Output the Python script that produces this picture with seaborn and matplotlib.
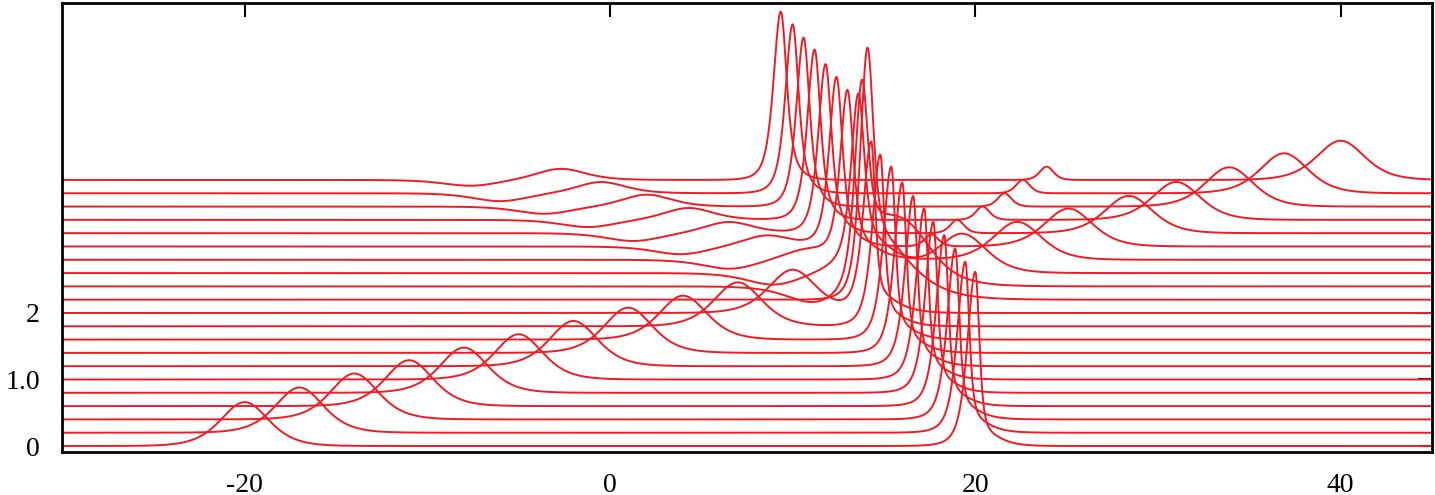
import numpy as np
import matplotlib
matplotlib.use("Agg")
import matplotlib.pyplot as plt
import seaborn as sns
import pandas as pd

# ---- data ----
step = 0.2  # vertical offset between successive profiles
lines = list(range(21))
broad_pos = [-20.0, -17.0, -14.0, -11.0, -8.0, -5.0, -2.0, 1.0, 4.0, 7.0, 10.0,
             13.2, 16.4, 19.3, 22.3, 25.1, 28.4, 31.0, 33.9, 36.9, 40.0]
broad_amp = [0.66, 0.68, 0.69, 0.69, 0.68, 0.68, 0.68, 0.68, 0.66, 0.66, 0.65,
             0.0, 0.50, 0.58, 0.57, 0.57, 0.56, 0.57, 0.59, 0.60, 0.59]
narrow_pos = [20.0, 19.45, 18.9, 18.3, 17.7, 17.2, 16.6, 16.0, 15.4, 14.8, 14.3,
              14.1, 13.8, 13.6, 13.0, 12.4, 11.8, 11.2, 10.6, 10.0, 9.35]
narrow_amp = [2.62, 2.57, 2.57, 2.57, 2.57, 2.57, 2.56, 2.56, 2.60, 2.58, 2.56,
              3.79, 3.08, 2.57, 2.51, 2.54, 2.54, 2.56, 2.54, 2.54, 2.53]
# fraction of the narrow pulse carried by its slow trailing (right) tail
tail_frac = [0.12, 0.12, 0.12, 0.12, 0.12, 0.12, 0.12, 0.12, 0.12, 0.12, 0.14,
             0.30, 0.32, 0.22, 0.16, 0.15, 0.15, 0.15, 0.15, 0.15, 0.15]
tail_len = [1.3, 1.3, 1.3, 1.3, 1.3, 1.3, 1.3, 1.3, 1.3, 1.3, 1.5,
            2.6, 2.8, 2.2, 1.6, 1.2, 1.1, 1.0, 1.0, 1.0, 1.0]
# trailing wave train behind the collision (dip then hump, moving left)
dip_pos = [None] * 12 + [11.2, 9.0, 6.6, 3.9, 1.3, -1.2, -3.6, -6.0, -7.6]
dip_amp = [0.0] * 12 + [-0.25, -0.18, -0.14, -0.12, -0.12, -0.11, -0.11, -0.12, -0.09]
hump_pos = [None] * 12 + [None, 13.0, 10.8, 8.6, 6.5, 4.3, 2.0, -0.5, -2.7]
hump_amp = [0.0] * 12 + [0.0, 0.15, 0.16, 0.17, 0.17, 0.18, 0.18, 0.17, 0.17]
# small fast ripple emitted to the right after the collision
ripple_pos = [None] * 15 + [17.6, 19.0, 20.4, 21.6, 22.6, 23.9]
ripple_amp = [0.0] * 15 + [0.18, 0.2, 0.2, 0.2, 0.2, 0.2]
xticks = [-20, 0, 20, 40]
yticks = [0, 1, 2]
ytick_labels = ["0", "1.0", "2"]

x = np.linspace(-30, 45, 3001)


def sech2(u):
    return 1.0 / np.cosh(np.clip(u, -50, 50)) ** 2


rows = []
for n in lines:
    y = np.zeros_like(x)
    y += broad_amp[n] * sech2((x - broad_pos[n]) / 1.75)
    c = narrow_pos[n]
    wl, wr = (0.55, 0.28) if n <= 10 else (0.5, 0.4)
    f = tail_frac[n]
    left = 0.9 * sech2((x - c) / wl) + 0.1 * sech2((x - c) / (2.2 * wl))
    right = (1 - f) * sech2((x - c) / wr) + f * sech2((x - c) / tail_len[n])
    y += narrow_amp[n] * np.where(x < c, left, right)
    if dip_pos[n] is not None:
        y += dip_amp[n] * sech2((x - dip_pos[n]) / 2.0)
    if hump_pos[n] is not None:
        y += hump_amp[n] * sech2((x - hump_pos[n]) / 1.8)
    if ripple_pos[n] is not None:
        y += ripple_amp[n] * sech2((x - ripple_pos[n]) / 0.5)
    rows.append(pd.DataFrame({"x": x, "y": y + step * n, "line": n}))
df = pd.concat(rows, ignore_index=True)

sns.set_theme(style="white")
plt.rcParams["font.family"] = ["Liberation Serif", "DejaVu Serif"]

fig = plt.figure(figsize=(14.35, 4.95), dpi=100)
ax = fig.add_axes([62 / 1435, 1 - 452 / 495, (1432 - 62) / 1435, (452 - 3) / 495])
sns.lineplot(data=df, x="x", y="y", units="line", estimator=None,
             color="#ee1c24", linewidth=1.4, ax=ax, legend=False, sort=False)

ax.set_xlim(-30, 45)
ax.set_ylim(-0.09, 6.66)
ax.set_xticks(xticks)
ax.set_xticklabels([str(v) for v in xticks])
ax.set_yticks(yticks)
ax.set_yticklabels(ytick_labels)
ax.set_xlabel("")
ax.set_ylabel("")
ax.tick_params(axis="both", direction="in", length=10, width=1.5, colors="black",
               labelsize=20, top=True, right=True)
ax.tick_params(axis="x", pad=15)
ax.tick_params(axis="y", pad=16)
for s in ax.spines.values():
    s.set_color("black")
    s.set_linewidth(2.0)

fig.savefig("out.png", dpi=100)
